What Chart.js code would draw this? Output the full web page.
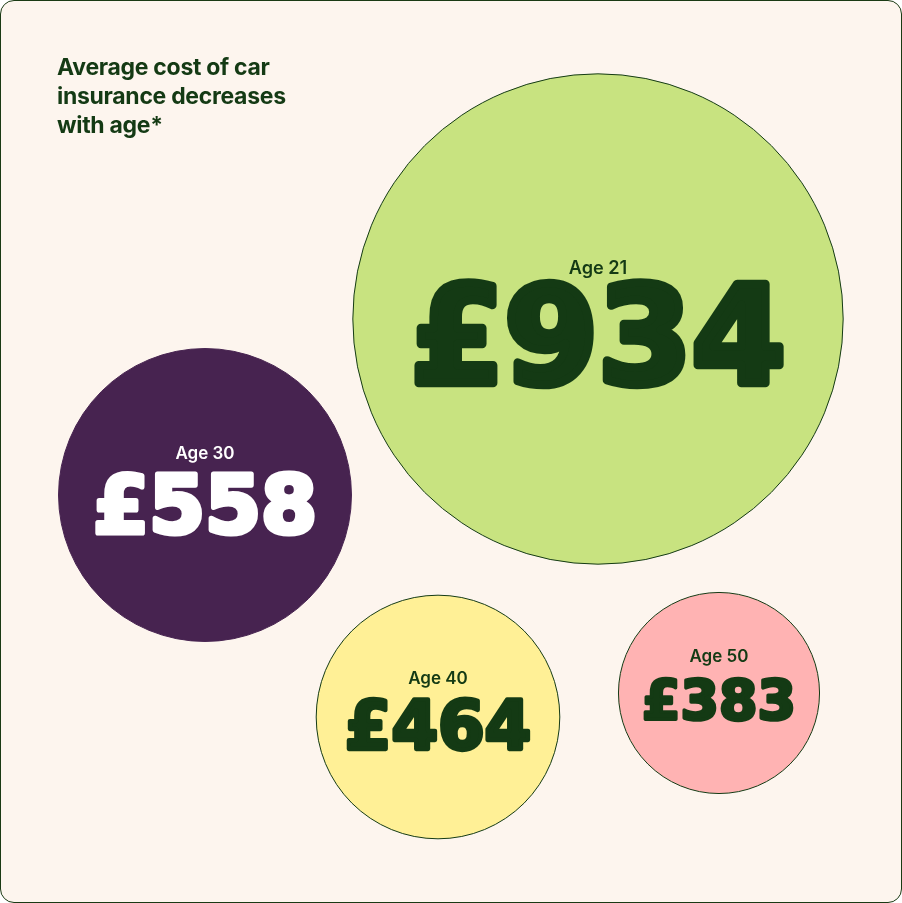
<!DOCTYPE html>
<html><head><meta charset="utf-8">
<script src="https://cdn.jsdelivr.net/npm/chart.js@4"></script>
<style>
html,body{margin:0;padding:0;background:#fff;}
#wrap{position:absolute;left:0;top:0;width:900px;height:901px;border:1px solid #1a3a14;border-radius:14px;background:#fdf5ee;overflow:hidden;}
#title{position:absolute;left:56px;top:52px;font:bold 23px "Inter","Open Sans",sans-serif;color:#143a14;line-height:29px;letter-spacing:-0.3px;}
canvas{position:absolute;left:0;top:0;}
</style></head>
<body>
<div id="wrap">
<canvas id="c" width="900" height="901"></canvas>
<div id="title">Average cost of car<br>insurance decreases<br>with age*</div>
</div>
<script>
const ages = ["Age 21", "Age 30", "Age 40", "Age 50"];
const costs = [934, 558, 464, 383];
// layout: bubble centres in page pixels
const centerX = [597, 204, 437, 718];
const centerY = [318, 494, 716, 692];
const fills = ["#c8e380", "#472350", "#fff096", "#ffb3b3"];
const borders = ["#143a14", "#472350", "#143a14", "#143a14"];
const textCol = ["#143a14", "#ffffff", "#143a14", "#143a14"];
const pxPerPound = 0.2625;

const labels = {
  id: "labels",
  afterDatasetsDraw(chart) {
    const ctx = chart.ctx;
    chart.getDatasetMeta(0).data.forEach((el, i) => {
      const r = costs[i] * pxPerPound;
      ctx.save();
      ctx.fillStyle = textCol[i];
      ctx.strokeStyle = textCol[i];
      ctx.textAlign = "center";
      ctx.textBaseline = "middle";
      const small = Math.max(17, r * 0.074);
      ctx.font = `600 ${small}px Inter, sans-serif`;
      ctx.fillText(ages[i], el.x, el.y - (0.1 * r + 26));
      ctx.font = `bold ${r * 0.55}px "DejaVu Sans", sans-serif`;
      ctx.lineWidth = r * 0.035;
      ctx.lineJoin = "round";
      const txt = "£" + costs[i];
      ctx.fillText(txt, el.x, el.y + r * 0.12, r * 1.53);
      ctx.strokeText(txt, el.x, el.y + r * 0.12, r * 1.53);
      ctx.restore();
    });
  },
};

new Chart(document.getElementById("c"), {
  type: "bubble",
  data: {
    datasets: [{
      data: costs.map((v, i) => ({ x: centerX[i], y: centerY[i], r: v * pxPerPound })),
      backgroundColor: fills,
      borderColor: borders,
      borderWidth: 1,
      clip: false,
    }],
  },
  options: {
    responsive: false,
    animation: false,
    layout: { padding: 0, autoPadding: false },
    scales: {
      x: { display: false, min: 0, max: 900 },
      y: { display: false, min: 0, max: 901, reverse: true },
    },
    plugins: { legend: { display: false }, tooltip: { enabled: false } },
  },
  plugins: [labels],
});
</script>
</body></html>
